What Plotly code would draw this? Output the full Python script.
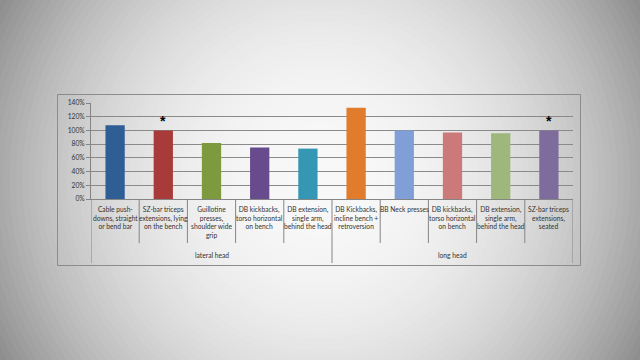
import plotly.graph_objects as go

# ---- data ----
exercises = [
    "Cable push-<br>downs, straight<br>or bend bar",
    "SZ-bar triceps<br>extensions, lying<br>on the bench",
    "Guillotine<br>presses,<br>shoulder wide<br>grip",
    "DB kickbacks,<br>torso horizontal<br>on bench",
    "DB extension,<br>single arm,<br>behind the head",
    "DB Kickbacks,<br>incline bench +<br>retroversion",
    "BB Neck presses",
    "DB kickbacks,<br>torso horizontal<br>on bench",
    "DB extension,<br>single arm,<br>behind the head",
    "SZ-bar triceps<br>extensions,<br>seated",
]
groups = ["lateral head"] * 5 + ["long head"] * 5
values = [107.5, 100, 81.5, 75, 73.5, 133, 100, 97, 96, 100]
starred = [False, True, False, False, False, False, False, False, False, True]
y_ticks = [0, 20, 40, 60, 80, 100, 120, 140]

colors = ["#2E5E93", "#A83B3A", "#7D9A3E", "#674B8C", "#3697B4",
          "#E07C2C", "#7F9FD6", "#CB7A79", "#9DB87A", "#7E6C9C"]

# ---- geometry (pixels) ----
W, H = 640, 360
plot_l, plot_r, plot_t, plot_b = 91, 573, 103, 199
ph = plot_b - plot_t
pw = plot_r - plot_l

def py(pix):  # pixel y -> paper y
    return (plot_b - pix) / ph

def px(pix):  # pixel x -> paper x
    return (pix - plot_l) / pw

xs = list(range(len(exercises)))

fig = go.Figure()
fig.add_trace(go.Bar(x=xs, y=values, marker=dict(color=colors, line=dict(width=0)),
                     width=0.4, hoverinfo="y"))

shapes = []
# radial background gradient (concentric pixel-sized circles)
cx, cy = px(320), py(180)
N = 60
Rmax = 380
for k in range(N):
    r = Rmax * (1 - k / N)
    t = r / 367.0
    c = int(round(248 - 106 * min(t, 1.05) ** 2.3))
    c = max(0, min(255, c))
    col = f"rgb({c},{c},{c})"
    shapes.append(dict(type="circle", xref="paper", yref="paper",
                       xsizemode="pixel", ysizemode="pixel",
                       xanchor=cx, yanchor=cy,
                       x0=-r, x1=r, y0=-r, y1=r,
                       fillcolor=col, line=dict(width=0), layer="below"))

sep_col = "#858585"
# category separators
for i in range(len(exercises) + 1):
    b = i - 0.5
    outer = (i == 0 or i == len(exercises) or groups[i - 1] != groups[i])
    y1 = py(263) if outer else py(243)
    shapes.append(dict(type="line", xref="x", yref="paper", x0=b, x1=b,
                       y0=0, y1=y1, line=dict(color=sep_col, width=1)))
# outer chart border
shapes.append(dict(type="rect", xref="paper", yref="paper",
                   x0=px(57.5), x1=px(580.5), y0=py(265.5), y1=py(94.5),
                   line=dict(color="#8c8c8c", width=1)))

FONT = "Lato"
TXT = "#333333"
annotations = []
for i, lab in enumerate(exercises):
    annotations.append(dict(x=xs[i], xref="x", y=0, yref="paper", yanchor="top",
                            yshift=-4, text=lab, showarrow=False, align="center",
                            font=dict(size=6.7, color=TXT, family=FONT)))
    if starred[i]:
        annotations.append(dict(x=xs[i], xref="x", y=values[i], yref="y",
                                yanchor="bottom", yshift=-1, text="<b>*</b>", showarrow=False,
                                font=dict(size=14, color="#000000", family="Arial")))
# group labels
seen = []
for g in groups:
    if g not in seen:
        seen.append(g)
for g in seen:
    idx = [xs[i] for i in range(len(groups)) if groups[i] == g]
    annotations.append(dict(x=sum(idx) / len(idx), xref="x", y=py(255), yref="paper",
                            yanchor="middle", text=g, showarrow=False,
                            font=dict(size=6.7, color=TXT, family=FONT)))

fig.update_layout(
    width=W, height=H,
    margin=dict(l=plot_l, r=W - plot_r, t=plot_t, b=H - plot_b, pad=0),
    paper_bgcolor="rgb(142,142,142)",
    plot_bgcolor="rgba(0,0,0,0)",
    showlegend=False,
    bargap=0.6,
    shapes=shapes,
    annotations=annotations,
    xaxis=dict(range=[-0.5, len(exercises) - 0.5], showticklabels=False,
               showgrid=False, zeroline=False, showline=True,
               linecolor=sep_col, linewidth=1, ticks="", fixedrange=True),
    yaxis=dict(range=[0, 140], tickvals=y_ticks,
               ticktext=[f"{v}%" for v in y_ticks],
               showgrid=True, gridcolor="#8a8a8a", gridwidth=1,
               zeroline=False, showline=True, linecolor=sep_col, linewidth=1,
               ticks="outside", ticklen=4, tickcolor=sep_col,
               tickfont=dict(size=6.7, color=TXT, family=FONT),
               fixedrange=True),
)

fig.write_html("out.html", config={"displayModeBar": False},
               post_script="document.body.style.margin='0';document.body.style.overflow='hidden';")
